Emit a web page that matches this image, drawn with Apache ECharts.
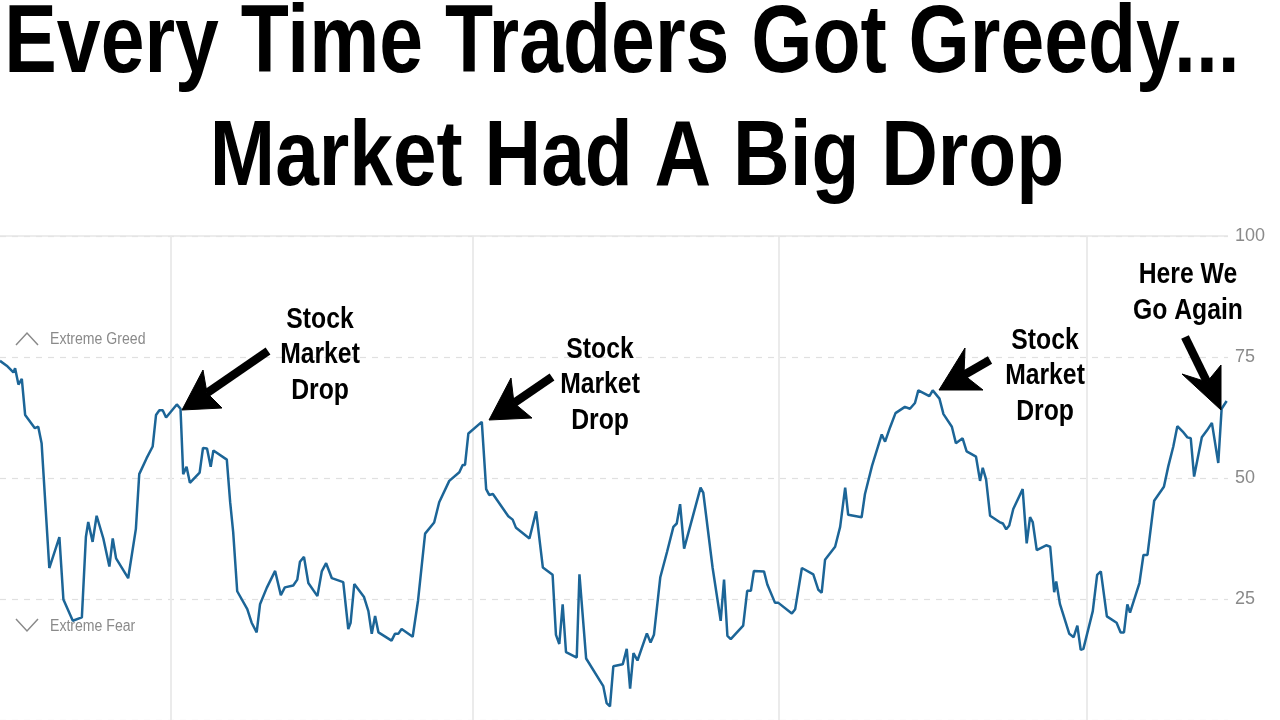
<!DOCTYPE html>
<html><head><meta charset="utf-8">
<script src="https://cdn.jsdelivr.net/npm/echarts@6/dist/echarts.min.js"></script>
<style>html,body{margin:0;padding:0;background:#fff}#c{width:1280px;height:720px}</style>
</head><body><div id="c"></div>
<script>
// ---- DATA ----
// day index (calendar days from start of window)
const days = [0,2,4,4.5,5.5,6.5,7.5,10.4,11.4,12.4,
14.7,17.7,18.9,19.4,21.7,24.4,25.6,26.3,27.6,28.8,
30.8,32.6,33.6,34.6,38.2,40.5,41.5,43.7,45.5,46.5,
47.5,48.5,49.5,52.7,53.8,54.6,55.6,56.6,59.5,60.5,
61.7,62.8,63.6,67.6,68.6,69.5,70.7,73.7,75,76.5,
77.5,79.5,82,83.7,84.9,87.4,88.6,89.4,90.6,91.9,
94.6,95.9,97.2,98.9,102.3,103.8,104.5,105.6,108.5,109.8,
110.8,111.8,112.8,116.7,117.7,118.7,119.7,123,124.6,126.7,
129.4,130.9,133.9,136.9,137.9,138.6,139.6,143.6,144.9,145.8,
146.9,151.5,152.8,153.8,157.8,159.8,161.8,164.7,165.7,166.7,
167.7,168.7,171.9,172.7,174.7,179.8,180.8,181.8,182.8,185.6,
186.8,187.8,188.8,190,192.8,193.9,194.9,196.8,198.8,200.7,
201.7,202.7,203.9,208.8,209.6,212.4,214.8,215.8,216.8,217.8,
221.5,222.7,223.8,224.7,227.7,228.7,231,232,236,237,
239,242.4,243.9,244.9,245.9,248.9,250.4,251.9,252.8,256.8,
257.8,259.9,262.8,263.8,265.3,266.9,269.7,271.2,272.7,273.7,
277,278,280,281.2,283.7,284.9,286.9,288.1,290.9,292.1,
292.9,293.9,295.1,297.9,298.9,299.9,300.8,302,304.8,306,
307,307.8,309,311.8,313,314.2,314.8,315.9,318.7,320,
321.1,322.1,322.9,325.7,327,328.1,329.9,332.8,334,335,
336,336.8,339.6,340.8,342,344,346.9,348.2,349.7,350.9,
352.5,353.9,354.9,355.9,358.2,359.7,361.2,363.1,364.1,365.6];
// Fear & Greed index values
const fearGreed = [74.2,73.2,71.8,72.7,69.3,70.5,63.0,60.3,60.6,57.2,
31.4,37.8,24.9,25.2,20.5,21.2,37.8,40.9,36.8,42.2,
37.5,31.7,37.5,33.4,29.3,39.5,50.8,54.1,56.5,63.0,
64.0,64.0,62.5,65.2,64.3,50.8,52.3,49.0,51.1,56.2,
56.1,52.3,55.7,53.8,45.0,38.8,26.6,22.9,20.1,18.1,
23.9,27.3,30.8,25.8,27.4,27.8,29.0,32.7,33.7,28.3,
25.6,30.7,32.4,29.3,28.5,18.8,20.1,28.1,25.4,22.5,
17.8,21.5,18.1,16.4,17.8,17.8,18.8,17.2,24.7,38.5,
40.8,45.0,49.4,51.2,52.7,52.7,59.2,61.6,47.7,46.5,
46.7,42.1,41.4,39.7,37.5,43.1,31.5,30.0,17.6,15.7,
23.9,14.0,12.9,30.1,12.7,7.0,3.5,2.8,11.1,11.5,
14.7,6.5,13.8,12.3,17.9,16.0,17.6,29.5,34.7,39.9,
40.6,44.6,35.4,48.0,47.0,31.4,20.5,29.0,17.4,16.7,
19.5,26.7,26.7,30.8,30.7,28.0,24.2,24.2,22.0,22.9,
31.4,30.1,26.9,26.3,33.1,35.8,39.9,48.0,42.4,41.9,
46.7,52.5,59.0,57.5,60.5,63.4,64.7,64.3,65.5,68.1,
66.9,68.1,66.4,63.2,60.6,57.2,58.2,55.5,54.4,49.4,
52.1,49.7,42.2,40.9,40.6,39.4,40.2,43.6,47.7,36.5,
41.9,40.9,35.1,36.1,35.8,26.4,28.6,24.0,17.8,17.1,
19.5,14.5,14.7,22.5,30.0,30.7,21.4,20.1,18.1,18.1,
23.9,22.2,28.3,34.1,34.1,45.3,48.2,52.4,56.5,60.7,
59.6,58.4,58.2,50.3,58.4,59.8,61.4,53.1,64.3,65.9];
// quarter boundaries (vertical grid lines), in days
const quarterStarts = [51, 141, 232, 324];
const yTicks = [25, 50, 75, 100];
const titleLines = ['Every Time Traders Got Greedy...', 'Market Had A Big Drop'];
const zoneLabels = ['Extreme Greed', 'Extreme Fear'];
const notes = ['Stock\nMarket\nDrop', 'Stock\nMarket\nDrop', 'Stock\nMarket\nDrop', 'Here We\nGo Again'];

// ---- font detection ----
function hasFont(f){
  const c=document.createElement('canvas').getContext('2d');
  c.font='40px monospace'; const a=c.measureText('abcdefghijMW').width;
  c.font='40px "'+f+'", monospace'; const b=c.measureText('abcdefghijMW').width;
  return a!==b;
}
const narrow = hasFont('Liberation Sans Narrow');
const FAM = narrow ? '"Liberation Sans Narrow", sans-serif' : '"Liberation Sans", Arial, sans-serif';
const SX = narrow ? 1 : 0.82;

// ---- layout (positions/styles) ----
const titlePos = [[622, 46, 96, 1], [637, 160, 92, 1.04]];
const notePos = [[320, 355], [600, 385], [1045, 376], [1188, 293]];
const arrows = [
  {tail:[268,351], tip:[182,410], b1:[203,370], b2:[222,408], notch:[207,393]},
  {tail:[552,377], tip:[489,420], b1:[511,378], b2:[532,418], notch:[514,403]},
  {tail:[990,360], tip:[939,390], b1:[965,348], b2:[983,390], notch:[964,375]},
  {tail:[1185,337], tip:[1221,410], b1:[1182,374], b2:[1221,365], notch:[1207,382]}
];

const graphics = [];
titleLines.forEach((t,i)=>{
  const p=titlePos[i];
  graphics.push({type:'text', x:p[0], y:p[1], scaleX:SX*p[3], z:10,
    style:{text:t, x:0, y:0, fill:'#000', font:'bold '+p[2]+'px '+FAM, textAlign:'center', textVerticalAlign:'middle'}});
});
notes.forEach((t,i)=>{
  const p=notePos[i];
  graphics.push({type:'text', x:p[0], y:p[1], scaleX:SX*1.04, z:10,
    style:{text:t, x:0, y:0, fill:'#000', font:'bold 29px '+FAM, lineHeight:35.5, textAlign:'center', textVerticalAlign:'middle'}});
});
arrows.forEach(a=>{
  graphics.push({type:'polyline', z:10, shape:{points:[a.tail, a.notch]}, style:{stroke:'#000', lineWidth:8.5, fill:null}});
  graphics.push({type:'polygon', z:10, shape:{points:[a.tip, a.b1, a.notch, a.b2]}, style:{fill:'#000', stroke:'#000', lineWidth:1}});
});
// zone labels
graphics.push({type:'polyline', shape:{points:[[16,345],[27,333],[38,345]]}, style:{stroke:'#8a8a8a', lineWidth:1.5, fill:null}});
graphics.push({type:'polyline', shape:{points:[[16,619],[27,631],[38,619]]}, style:{stroke:'#8a8a8a', lineWidth:1.5, fill:null}});
graphics.push({type:'text', x:50, y:340, scaleX:0.88, style:{text:zoneLabels[0], x:0, y:0, fill:'#8a8a8a', font:'16px '+FAM, textVerticalAlign:'middle'}});
graphics.push({type:'text', x:50, y:627, scaleX:0.88, style:{text:zoneLabels[1], x:0, y:0, fill:'#8a8a8a', font:'16px '+FAM, textVerticalAlign:'middle'}});

const chart = echarts.init(document.getElementById('c'), null, {renderer:'canvas'});
chart.setOption({
  animation:false,
  backgroundColor:'#fff',
  grid:{left:0, right:52, top:236, bottom:-8, containLabel:false},
  xAxis:{type:'value', min:0, max:366, show:false, splitLine:{show:false}},
  yAxis:{type:'value', position:'right', min:0, max:100, interval:25,
    axisLine:{show:false}, axisTick:{show:false},
    axisLabel:{margin:7, color:'#8a8a8a', fontSize:18, fontFamily:FAM,
      formatter:v=> yTicks.indexOf(v)>=0 ? String(v) : ''},
    splitLine:{show:true, lineStyle:{color:'#e0e0e0', width:1.2, type:[6,6]}}},
  graphic:graphics,
  series:[{
    type:'line', data:days.map((d,i)=>[d, fearGreed[i]]), showSymbol:false, silent:true,
    lineStyle:{color:'#1c6597', width:2.5}, itemStyle:{color:'#1c6597'}, z:5,
    markLine:{silent:true, symbol:'none', label:{show:false}, animation:false,
      data:[
        ...quarterStarts.map(q=>({xAxis:q, lineStyle:{color:'#ebebeb', width:2, type:'solid'}})),
        {yAxis:100, lineStyle:{color:'#e6e6e6', width:1.5, type:'solid'}}
      ]}
  }]
});
</script></body></html>
